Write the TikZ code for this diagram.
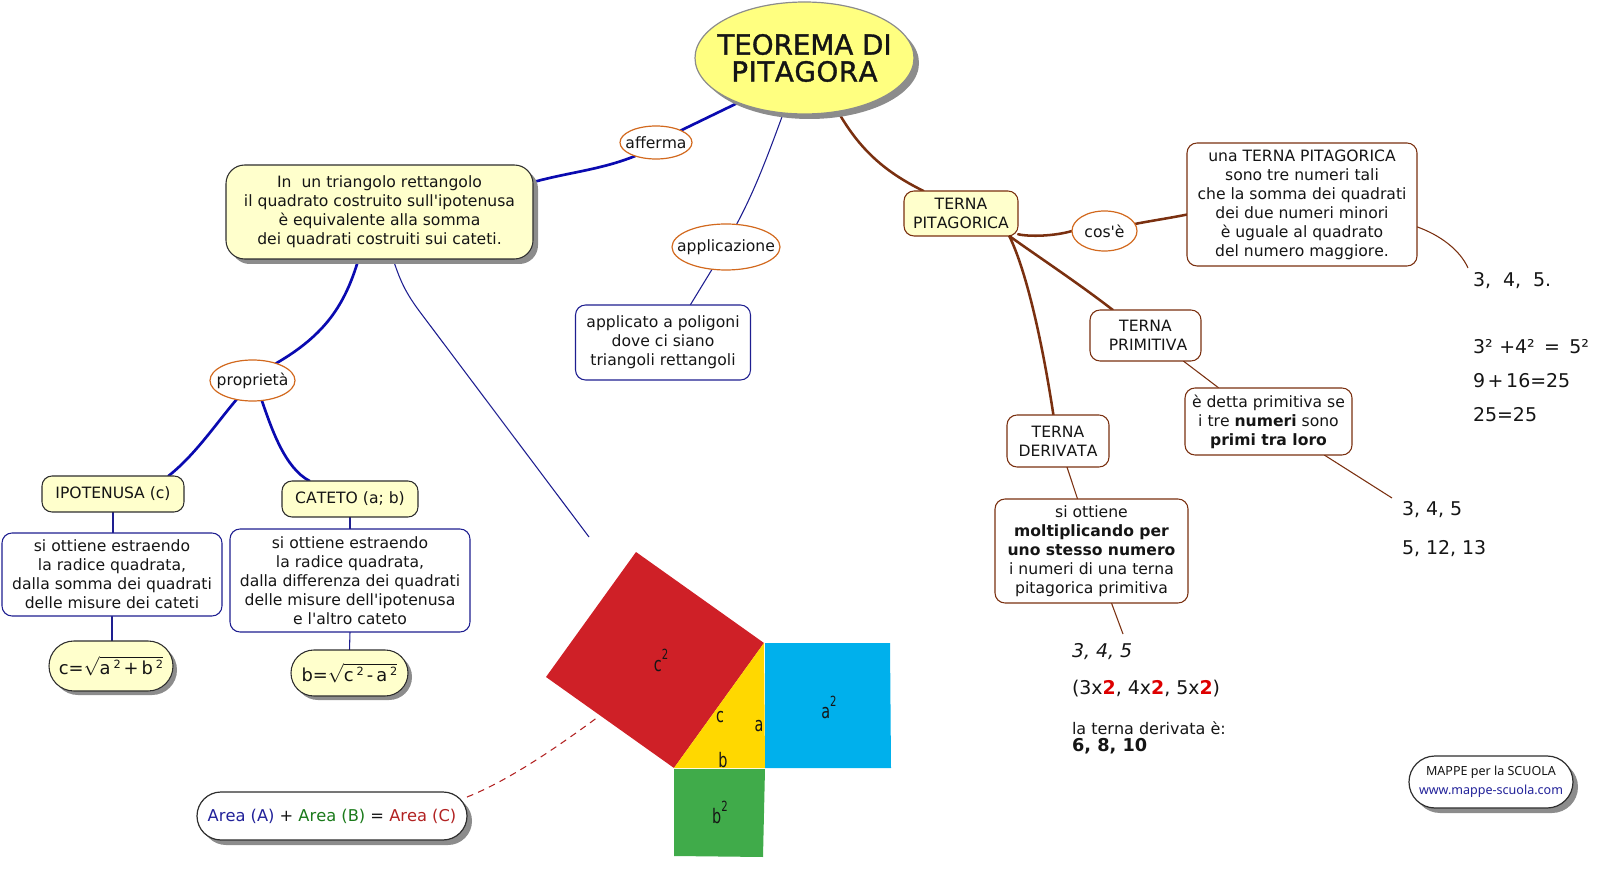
\documentclass[tikz,border=0pt]{standalone}
\usepackage{fontspec}
\usetikzlibrary{shapes.geometric,shadows,calc}
\newfontfamily\vf[Kerning=Off]{DejaVu Sans}
\newfontfamily\vfb[FakeBold=1.2,Kerning=Off]{DejaVu Sans}
\newfontfamily\vfbs[FakeBold=1.2,Kerning=Off,LetterSpace=2]{DejaVu Sans}
\newfontfamily\nf{Noto Sans}
\definecolor{lem}{HTML}{FFFF80}
\definecolor{cream}{HTML}{FFFFCC}
\definecolor{shad}{HTML}{8C8C8C}
\definecolor{ora}{HTML}{D2691E}
\definecolor{brn}{HTML}{7A3010}
\definecolor{nav}{HTML}{0A0AB0}
\definecolor{thinb}{HTML}{1E1E90}
\definecolor{edge}{HTML}{2E2E2E}
\definecolor{txt}{HTML}{151515}
\newcommand{\supt}{\raisebox{0.6ex}{\fontsize{8.5}{8.5}\selectfont 2}}
\newcommand{\tr}{\hspace{4pt}}
\pgfdeclarelayer{bg}
\pgfsetlayers{bg,main}
\tikzset{
  sz/.style 2 args={minimum width=#1*0.75pt,minimum height=#2*0.75pt},
  nd/.style={inner sep=0pt,outer sep=0pt,align=center,text=txt,font=\vf\fontsize{11.7}{14.25}\selectfont},
  shad3/.style={drop shadow={shadow xshift=3.75pt,shadow yshift=-3.75pt,opacity=1,fill=shad}},
  shad2/.style={drop shadow={shadow xshift=3pt,shadow yshift=-3pt,opacity=1,fill=shad}},
  bubble/.style={nd,ellipse,inner sep=-60pt,draw=ora,line width=0.9pt,fill=white},
  creamy/.style={nd,rectangle,draw=edge,line width=0.8pt,fill=cream,rounded corners=7.5pt},
  creambr/.style={nd,rectangle,draw=brn,line width=0.8pt,fill=cream,rounded corners=7.5pt},
  whiteb/.style={nd,rectangle,draw=thinb,line width=0.8pt,fill=white,rounded corners=7.5pt},
  whitebr/.style={nd,rectangle,draw=brn,line width=0.8pt,fill=white,rounded corners=7.5pt},
  formula/.style={creamy,font=\vf\fontsize{13.4}{16}\selectfont},
  plain/.style={inner sep=0pt,outer sep=0pt,anchor=base west,text=txt,font=\vf\fontsize{14.2}{16}\selectfont},
  sqlabel/.style={inner sep=0pt,outer sep=0pt,text=txt,font=\vf\fontsize{15}{16}\selectfont},
  fat/.style={draw=nav,line width=2pt,line cap=round},
  fatbr/.style={draw=brn,line width=1.9pt,line cap=round},
  thinl/.style={draw=thinb,line width=0.8pt},
  thinbr/.style={draw=brn,line width=0.8pt},
}
\begin{document}
\begin{tikzpicture}[x=0.75pt,y=-0.75pt]
\useasboundingbox (0,0) rectangle (1600,873);
% squares
\fill[fill={rgb,255:red,207;green,32;blue,39}] (636,552) -- (764,643) -- (674,768) -- (546,677) -- cycle;
\fill[fill={rgb,255:red,255;green,216;blue,0}] (764,643) -- (765,768) -- (674,768) -- cycle;
\fill[fill={rgb,255:red,0;green,176;blue,236}] (765,643) -- (890,643) -- (891,768) -- (765,768) -- cycle;
\fill[fill={rgb,255:red,64;green,171;blue,74}] (674,769) -- (765,769) -- (763,857) -- (674,856) -- cycle;
\node[sqlabel] (lc2) at (661,660) {\scalebox{0.72}[1]{c\raisebox{1.1ex}{\fontsize{10.5}{11}\selectfont 2}}};
\node[sqlabel] (la2) at (829,707) {\scalebox{0.72}[1]{a\raisebox{1.1ex}{\fontsize{10.5}{11}\selectfont 2}}};
\node[sqlabel] (lb2) at (720,812) {\scalebox{0.72}[1]{b\raisebox{1.1ex}{\fontsize{10.5}{11}\selectfont 2}}};
\node[sqlabel] (lc) at (720,717) {\scalebox{0.72}[1]{c}};
\node[sqlabel] (la) at (759,726) {\scalebox{0.72}[1]{a}};
\node[sqlabel] (lb) at (723,760) {\scalebox{0.72}[1]{b}};
% nodes
\node[nd,ellipse,inner sep=-120pt,sz={219}{112},draw=shad,line width=0.9pt,fill=lem,shad3,font=\vfb\fontsize{20.8}{20.2}\selectfont] (title) at (804.5,58) {TEOREMA DI\\{\vfbs PITAGORA}};
\node[bubble,sz={72}{33}] (afferma) at (656,142.5) {afferma};
\node[bubble,sz={108}{46}] (applicazione) at (726,247) {applicazione};
\node[creambr,sz={114}{45}] (terna) at (961,213.5) {TERNA\\PITAGORICA};
\node[creamy,sz={307}{94},rounded corners=14pt,shad3] (statement) at (379.5,212) {In\ \ un triangolo rettangolo\\il quadrato costruito sull'ipotenusa\\è equivalente alla somma\\dei quadrati costruiti sui cateti.};
\node[bubble,sz={85}{41}] (proprieta) at (252.5,380.5) {proprietà};
\node[creamy,sz={142}{36}] (ipo) at (113,494) {IPOTENUSA (c)};
\node[creamy,sz={136}{36}] (cateto) at (350,499) {CATETO (a; b)};
\node[whiteb,sz={220}{83}] (boxA) at (112,574.5) {si ottiene estraendo\tr\\la radice quadrata,\\dalla somma dei quadrati\tr\\delle misure dei cateti\tr};
\node[whiteb,sz={240}{103}] (boxB) at (350,580.5) {si ottiene estraendo\tr\\la radice quadrata,\\dalla differenza dei quadrati\tr\\delle misure dell'ipotenusa\tr\\e l'altro cateto\tr};
\node[formula,sz={124}{50},rounded corners=18.7pt,shad2] (formA) at (111,666) {c=$\sqrt{\hbox{a\,\supt\,+\,b\,\supt}}$};
\node[formula,sz={117}{46},rounded corners=17.2pt,shad2] (formB) at (349.5,673) {b=$\sqrt{\hbox{c\,\supt\,-\,a\,\supt}}$};
\node[whiteb,sz={175}{75}] (applicato) at (663,342.5) {applicato a poligoni\\dove ci siano\\triangoli rettangoli};
\node[bubble,sz={65}{40}] (cose) at (1104.5,231) {cos'è};
\node[whitebr,sz={230}{123}] (unaterna) at (1302,204.5) {una TERNA PITAGORICA\\sono tre numeri tali\\che la somma dei quadrati\\dei due numeri minori\\è uguale al quadrato\\del numero maggiore.};
\node[whitebr,sz={111}{51}] (primitiva) at (1145.5,335.5) {TERNA\\\ PRIMITIVA};
\node[whitebr,sz={167}{67}] (detta) at (1268.5,421.5) {è detta primitiva se\\i tre \textbf{numeri} sono\\\textbf{primi tra loro}};
\node[whitebr,sz={102}{52}] (derivata) at (1058,441) {TERNA\\DERIVATA};
\node[whitebr,sz={193}{104}] (ottiene) at (1091.5,551) {si ottiene\\\textbf{moltiplicando per}\\\textbf{uno stesso numero}\\i numeri di una terna\\pitagorica primitiva};
\node[nd,rectangle,draw=edge,line width=0.9pt,fill=white,sz={270}{48},rounded corners=18pt,shad3,font=\vf\fontsize{12.2}{14.25}\selectfont] (area) at (332,816) {\textcolor[HTML]{22229A}{Area (A)} + \textcolor[HTML]{1A7A1A}{Area (B)} = \textcolor[HTML]{B22222}{Area (C)}};
\node[nd,rectangle,draw=edge,line width=0.9pt,fill=white,sz={164}{52},rounded corners=19.5pt,shad3,font=\nf\fontsize{9.4}{14}\selectfont] (mappe) at (1491,782) {MAPPE per la SCUOLA\\\textcolor[HTML]{22229A}{www.mappe-scuola.com}};
% free text
\node[plain] (t1) at (1473,287) {3,\ \ 4,\ \ 5.};
\node[plain] (t2) at (1473,354) {3²\hspace{5pt}+4²\hspace{7pt}=\hspace{7pt}5²};
\node[plain] (t3) at (1473,388) {9\hspace{2pt}+\hspace{2pt}16=25};
\node[plain] (t4) at (1473,422) {25=25};
\node[plain] (t5) at (1402,516) {3, 4, 5};
\node[plain] (t6) at (1402,554) {5, 12, 13};
\node[plain,font=\vf\itshape\fontsize{14.2}{16}\selectfont] (t7) at (1072,657) {3, 4, 5};
\node[plain,font=\vf\fontsize{14.2}{16}\selectfont] (t8) at (1072,694) {(3x\textcolor[HTML]{DD0000}{\textbf{2}}, 4x\textcolor[HTML]{DD0000}{\textbf{2}}, 5x\textcolor[HTML]{DD0000}{\textbf{2}})};
\node[plain,font=\vf\fontsize{12}{16}\selectfont] (t9) at (1072,734) {la terna derivata è:};
\node[plain,font=\vf\bfseries\fontsize{13.3}{16}\selectfont] (t10) at (1072,751) {6, 8, 10};
% free ends
\coordinate (endUna) at (1468,268);
\coordinate (endDetta) at (1392,498);
\coordinate (endOtt) at (1123,634);
\coordinate (endTri) at (589,537);
\coordinate (endRed) at (598,717);
% connectors
\begin{pgfonlayer}{bg}
\draw[fat] (title.214.6) -- (afferma);
\draw[fat] (afferma.213) .. controls (600,170) and (570,172) .. (statement.11);
\draw[thinl] (title.249.4) .. controls (768,155) and (755,190) .. (applicazione.65);
\draw[thinl] (applicazione.238) -- (applicato.54);
\draw[fatbr] (title.302.7) .. controls (860,150) and (885,172) .. (terna.149.4);
\draw[fat] (statement.246.4) .. controls (345,305) and (325,335) .. (proprieta.36);
\draw[thinl] (statement.286) .. controls (400,280) and (405,292) .. (420,312) -- (endTri);
\draw[fat] (proprieta.230) .. controls (215,425) and (195,455) .. (ipo.18.4);
\draw[fat] (proprieta.295) .. controls (272,430) and (285,468) .. (cateto.156.3);
\draw[thinl] (ipo.south) -- (ipo.south |- boxA.north);
\draw[thinl] (boxA.south) -- (boxA.south |- formA.north);
\draw[thinl] (cateto.south) -- (boxB.north);
\draw[thinl] (boxB.south) -- (formB.north);
\draw[fatbr] (terna.340) .. controls (1030,237) and (1055,236) .. (cose.180);
\draw[fatbr] (cose.13) .. controls (1150,221) and (1170,218) .. (unaterna.185);
\draw[thinbr] (unaterna.349) .. controls (1440,235) and (1460,250) .. (endUna);
\draw[fatbr] (terna.335) .. controls (1040,258) and (1078,283) .. (primitiva.142.7);
\draw[fatbr] (terna.335) .. controls (1026,270) and (1042,340) .. (derivata.100.9);
\draw[thinbr] (primitiva.326.5) -- (detta.146);
\draw[thinbr] (detta.329) -- (endDetta);
\draw[thinbr] (derivata.289) -- (ottiene.105.6);
\draw[thinbr] (ottiene.291.5) -- (endOtt);
\draw[draw={rgb,255:red,178;green,34;blue,34},line width=0.8pt,dashed,dash pattern=on 5pt off 4pt] (area.8) .. controls (510,780) and (560,745) .. (endRed);
\end{pgfonlayer}
\end{tikzpicture}
\end{document}
